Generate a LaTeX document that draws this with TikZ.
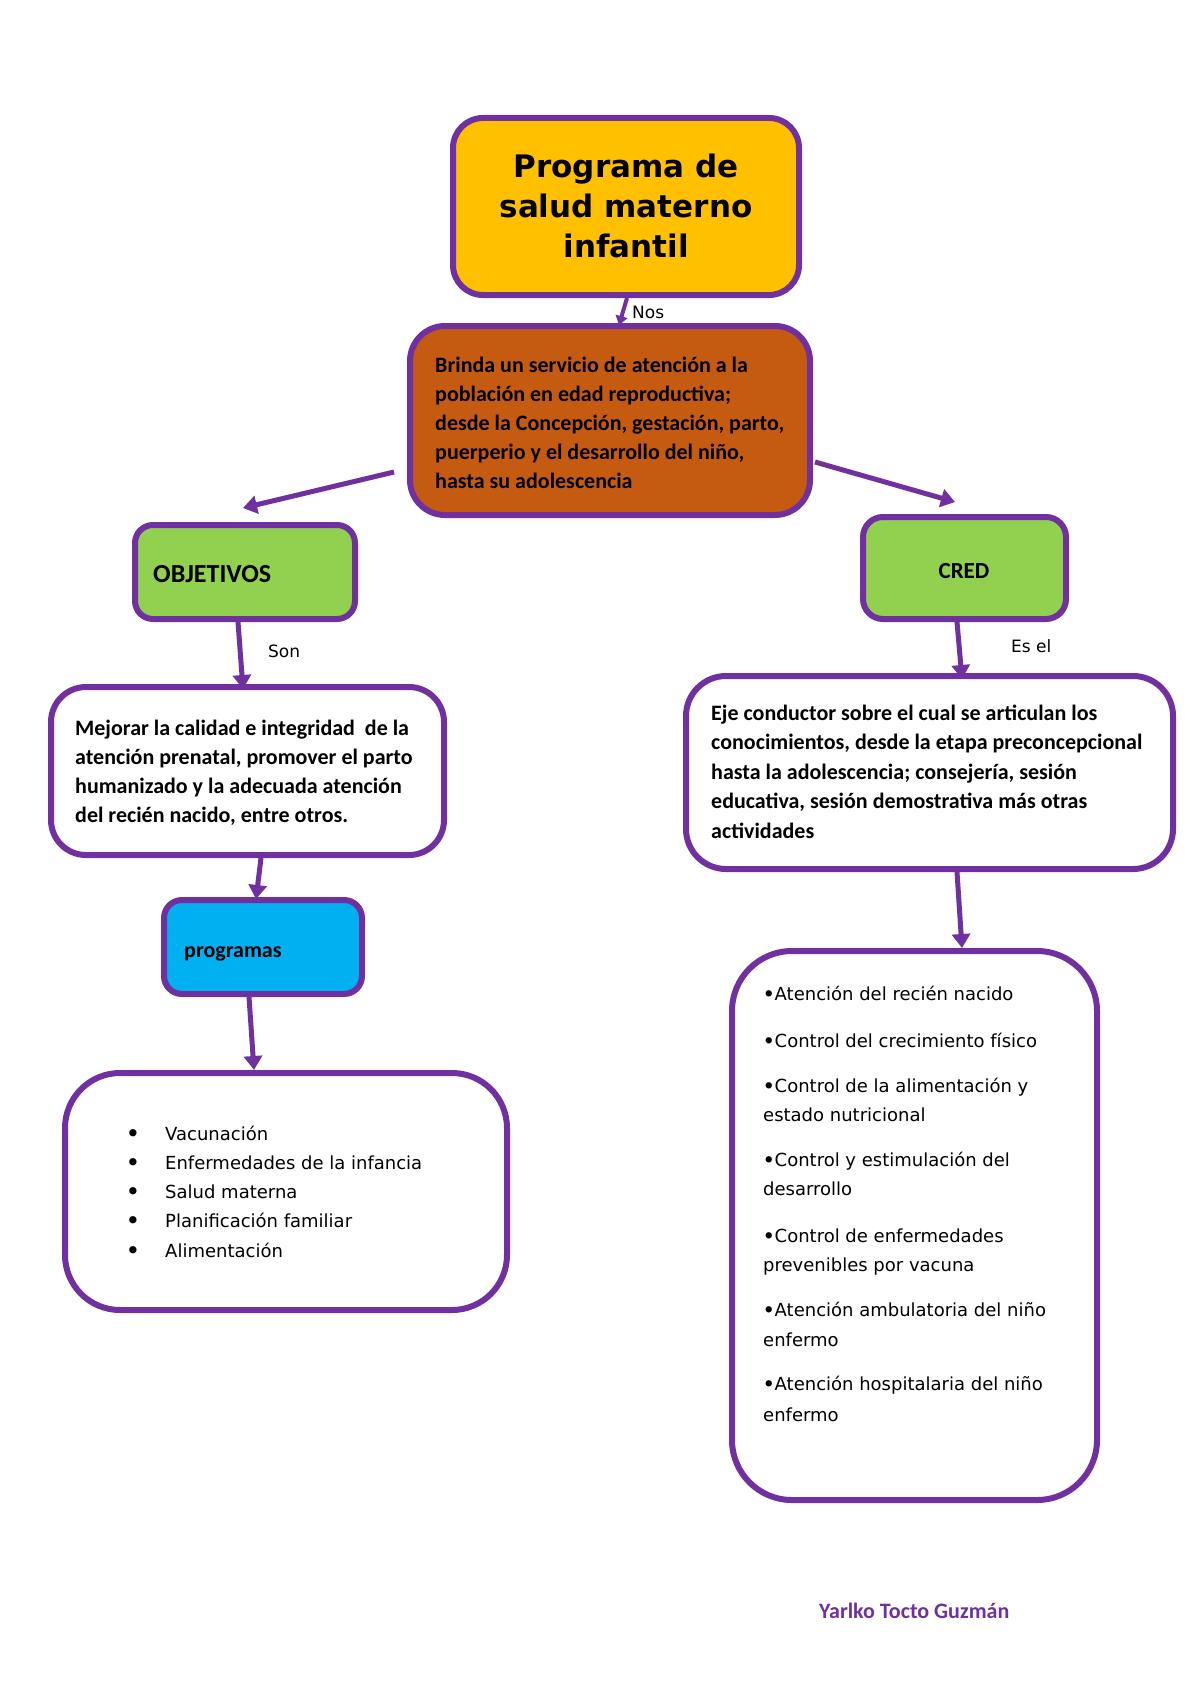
\documentclass[tikz,border=0pt]{standalone}
\usepackage{fontspec}
\setmainfont{Carlito}
\newfontfamily\dvs{DejaVu Sans}
\usetikzlibrary{arrows.meta,calc}
\definecolor{pur}{HTML}{7030A0}
\definecolor{gold}{HTML}{FFC000}
\definecolor{brownf}{HTML}{C55A11}
\definecolor{grn}{HTML}{92D050}
\definecolor{sky}{HTML}{00B0F0}
\tikzset{
  box/.style={draw=pur,line width=6pt,outer sep=3pt,inner sep=0pt,rounded corners=#1},
  arr/.style={draw=pur,line width=5pt,-{Triangle[width=18pt,length=14pt]}},
  sarr/.style={draw=pur,line width=4pt,-{Triangle[width=12pt,length=9pt]}},
  ln/.style={anchor=base west,inner sep=0pt,font=\bfseries\fontsize{22}{29}\selectfont},
  lst/.style={anchor=base west,inner sep=0pt,font=\dvs\fontsize{18}{29}\selectfont},
  lbl/.style={anchor=base west,inner sep=0pt,font=\dvs\fontsize{17}{20}\selectfont},
  ttl/.style={anchor=base,inner sep=0pt,font=\dvs\bfseries\fontsize{31}{40}\selectfont},
}
\begin{document}
\begin{tikzpicture}[x=1pt,y=-1pt]
\useasboundingbox[fill=white] (0,0) rectangle (1200,1696);
% boxes
\node[box=30,fill=gold,minimum width=346pt,minimum height=177pt] (top) at (626,206.5) {};
\node[box=35,fill=brownf,minimum width=400pt,minimum height=189pt] (brown) at (610,420.5) {};
\node[box=18,fill=grn,minimum width=220pt,minimum height=94pt] (obj) at (245,572) {};
\node[box=20,fill=grn,minimum width=203pt,minimum height=102pt] (cred) at (964.5,568) {};
\node[box=35,fill=white,minimum width=393pt,minimum height=168pt] (mej) at (247.5,771) {};
\node[box=40,fill=white,minimum width=487pt,minimum height=193pt] (eje) at (929.5,772.5) {};
\node[box=18,fill=sky,minimum width=198pt,minimum height=94pt] (prog) at (263,947) {};
\node[box=55,fill=white,minimum width=442pt,minimum height=237pt] (llist) at (286,1191.5) {};
\node[box=60,fill=white,minimum width=365pt,minimum height=549pt] (rlist) at (914.5,1225.5) {};
% title
\node[ttl] (t1) at (626,178) {Programa de};
\node[ttl] (t2) at (626,218) {salud materno};
\node[ttl] (t3) at (626,258) {infantil};
% brown text
\foreach \t [count=\i] in {{Brinda un servicio de atención a la},{población en edad reproductiva;},{desde la Concepción, gestación, parto,},{puerperio y el desarrollo del niño,},{hasta su adolescencia}}
  \node[ln] (br\i) at (435,{372+29*(\i-1)}) {\t};
% OBJETIVOS, CRED, programas
\node[ln,font=\bfseries\fontsize{26}{30}\selectfont] (objt) at (153,582) {OBJETIVOS};
\node[ln,anchor=base,font=\bfseries\fontsize{23}{28}\selectfont] (credt) at (964,578) {CRED};
\node[ln] (progt) at (184,957) {programas};
% Mejorar text
\foreach \t [count=\i] in {{Mejorar la calidad e integridad\ \ de la},{atención prenatal, promover el parto},{humanizado y la adecuada atención},{del recién nacido, entre otros.}}
  \node[ln] (mj\i) at (75,{735+29.3*(\i-1)}) {\t};
% Eje text
\foreach \t [count=\i] in {{Eje conductor sobre el cual se articulan los},{conocimientos, desde la etapa preconcepcional},{hasta la adolescencia; consejería, sesión},{educativa, sesión demostrativa más otras},{actividades}}
  \node[ln] (ej\i) at (711,{720+29.5*(\i-1)}) {\t};
% left list
\foreach \t [count=\i] in {{Vacunación},{Enfermedades de la infancia},{Salud materna},{Planificación familiar},{Alimentación}}{
  \node[lst,anchor=base,font=\dvs\fontsize{25}{29}\selectfont] (bu\i) at (133,{1142+29.25*(\i-1)}) {•};
  \node[lst] (li\i) at (165,{1140+29.25*(\i-1)}) {\t};
}
% right list
\foreach \t/\y [count=\i] in {{\textbf{•}Atención del recién nacido}/1000,{\textbf{•}Control del crecimiento físico}/1047,{\textbf{•}Control de la alimentación y}/1092,{estado nutricional}/1121,{\textbf{•}Control y estimulación del}/1166,{desarrollo}/1195,{\textbf{•}Control de enfermedades}/1242,{prevenibles por vacuna}/1271,{\textbf{•}Atención ambulatoria del niño}/1316,{enfermo}/1346,{\textbf{•}Atención hospitalaria del niño}/1390,{enfermo}/1421}
  \node[lst] (ri\i) at (763,\y) {\t};
% labels
\node[lbl] (nos) at (632,318) {Nos};
\node[lbl] (son) at (268,657) {Son};
\node[lbl] (esel) at (1011,652) {Es el};
% signature
\node[ln,text=pur] (sig) at (819,1618) {Yarlko Tocto Guzmán};
% connectors
\coordinate (bl) at ($(brown.west)+(-13,51.5)$);
\coordinate (blt) at ($(obj.north)+(-2,-14)$);
\coordinate (brs) at ($(brown.east)+(2,41.5)$);
\coordinate (brt) at ($(cred.north)+(-9.5,-12)$);
\draw[sarr] ($(top.south)+(1,0)$) -- ($(brown.north)+(9,2)$);
\draw[arr] (bl) -- (blt);
\draw[arr] (brs) -- (brt);
\draw[arr] ($(obj.south)+(-7,0)$) -- ($(mej.north)+(-4.5,5)$);
\draw[arr] ($(cred.south)+(-7.5,0)$) -- ($(eje.north)+(32.5,6)$);
\draw[arr] ($(mej.south)+(13.5,0)$) -- ($(prog.north)+(-7,2)$);
\draw[arr] ($(prog.south)+(-14,0)$) -- ($(llist.north)+(-32,0)$);
\draw[arr] ($(eje.south)+(27.5,0)$) -- ($(rlist.north)+(47.5,0)$);
\end{tikzpicture}
\end{document}
